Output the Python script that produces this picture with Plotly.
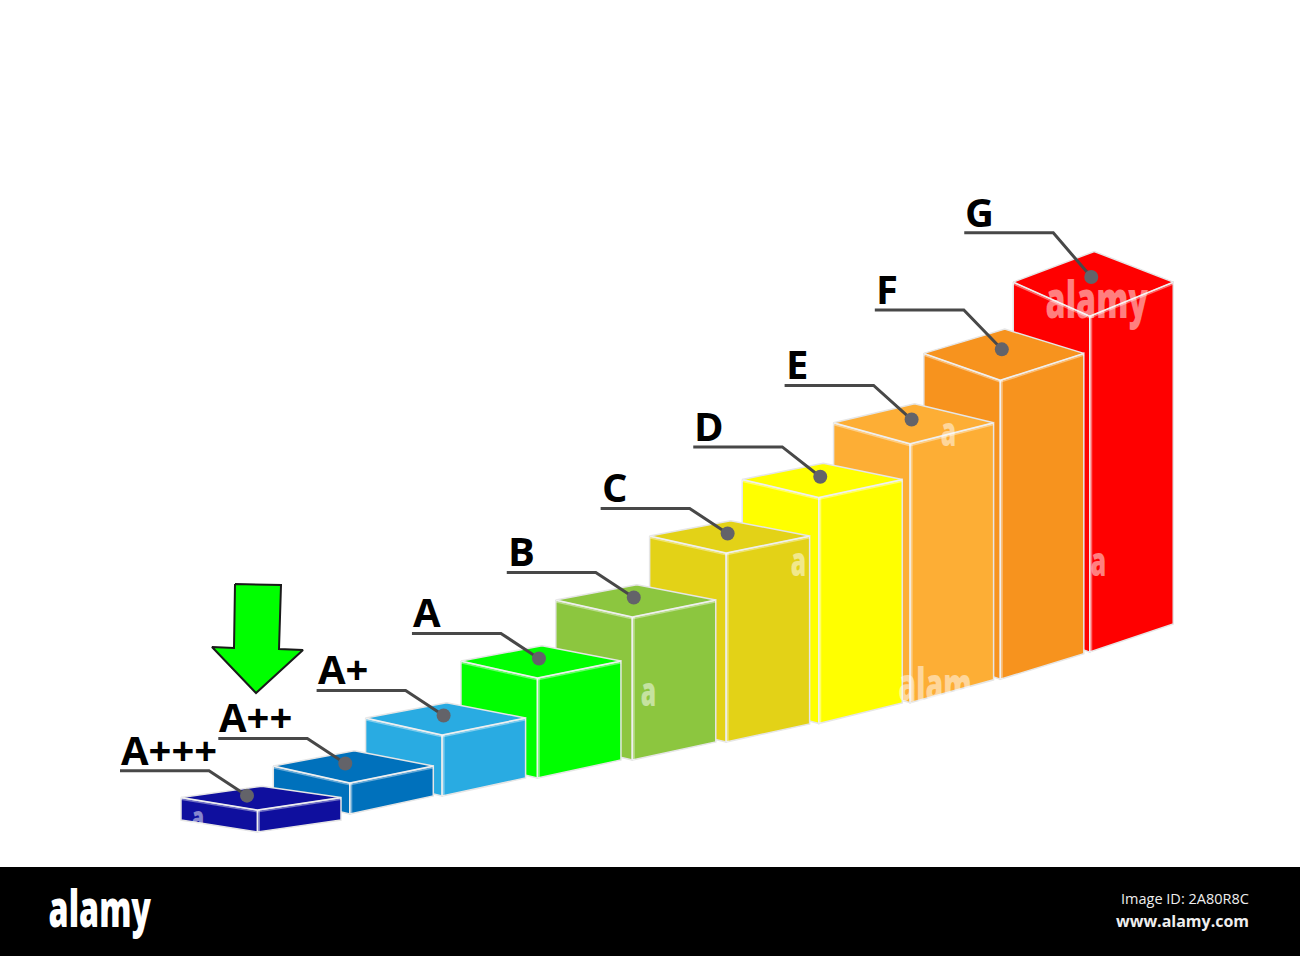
import math
import plotly.graph_objects as go

# ---- data ----
categories = ["A+++", "A++", "A+", "A", "B", "C", "D", "E", "F", "G"]
heights = [22, 31, 61, 100, 143, 189, 226, 259, 299, 336]

# ---- style ----
palette = ["#0f0f9e", "#0071bc", "#29abe2", "#00ff00", "#8cc63f",
           "#e3d217", "#ffff00", "#fdae35", "#f7931e", "#ff0000"]
EDGE = "#e6e6e6"
BEVEL = "rgba(255,255,255,0.4)"
LABEL_FONT = "Open Sans"
LOGO_FONT = "Open Sans"


def project(i, h):
    """Oblique view of a bar: slot index and height -> the corners of the bar."""
    left = 181 + 92.3 * i
    if i > 2:
        left += 7.5 * math.sin(math.pi * (i - 2) / 7.5)
    front_x, right_x, back_x = left + 76.5, left + 160, left + 81
    base = 832 - 18 * i - 0.56 * max(0, i - 5) ** 2.5
    rise = 18 if i > 0 else 12
    rise += max(0, i - 5) * 2.5
    tilt = 17 + (max(0, h - 200) / 136) ** 1.7 * 17 - max(0, 31 - h) * 0.5
    top = base - h
    return dict(
        left=left, fx=front_x, rx=right_x, bx=back_x,
        base=base, base_side=base - rise, top=top, tilt=tilt,
    )


fig = go.Figure()


def poly(xs, ys, fill=None, line=EDGE, width=1.5):
    fig.add_trace(go.Scatter(
        x=xs, y=ys, mode="lines", fill="toself" if fill else None,
        fillcolor=fill, line=dict(color=line, width=width),
        hoverinfo="skip", showlegend=False,
    ))


# tallest bars sit behind the lower ones
for i in reversed(range(len(categories))):
    g = project(i, heights[i])
    c = palette[i]
    L, F, R, B = g["left"], g["fx"], g["rx"], g["bx"]
    t, tl = g["top"], g["tilt"]
    side_top = t - tl
    back_top = side_top - tl * 0.9
    bs = g["base_side"]
    # left wall, right wall, roof
    poly([L, F, F, L, L], [side_top, t, g["base"], bs, side_top], fill=c)
    poly([F, R, R, F, F], [t, side_top, bs, g["base"], t], fill=c)
    poly([L, B, R, F, L], [side_top, back_top, side_top, t, side_top], fill=c)
    # lighter bevel along the front edges
    poly([L, F, R], [side_top + 1, t + 1, side_top + 1], line=BEVEL, width=3)
    poly([F + 1, F + 1], [t, g["base"]], line=BEVEL, width=3)

# leaders and dots
for i, name in enumerate(categories):
    g = project(i, heights[i])
    dot_x = g["left"] + min(78, 66 + 6 * i)
    dot_y = g["top"] - g["tilt"] * 1.15
    lift = 25 + max(0, heights[i] - 189) * 0.13
    line_y = dot_y - lift
    poly([dot_x - 127, dot_x - 38, dot_x], [line_y, line_y, dot_y],
         line="#484848", width=3)
    fig.add_trace(go.Scatter(
        x=[dot_x], y=[dot_y], mode="markers",
        marker=dict(size=14, color="#636369"),
        hoverinfo="skip", showlegend=False,
    ))
    fig.add_annotation(
        x=dot_x - 127, y=line_y + 7, text=name,
        xanchor="left", yanchor="bottom", showarrow=False, borderpad=0,
        font=dict(family=LABEL_FONT, size=40, color="black", weight=700),
    )

# green pointer above the A++ step
arrow_x = 257
arrow_outline = [(-22, 584), (24, 585), (22, 649), (46, 650), (-1, 693), (-45, 647), (-23, 648), (-22, 584)]
poly([arrow_x + p[0] for p in arrow_outline], [p[1] for p in arrow_outline],
     fill="#00ff00", line="#1a1a1a", width=2)

# footer band
fig.add_shape(type="rect", x0=0, x1=1300, y0=867, y1=956,
              fillcolor="black", line_width=0, layer="above")
fig.add_annotation(x=100, y=906, text="alamy", showarrow=False,
                   font=dict(family=LOGO_FONT, size=52, color="white", weight=800))
fig.add_annotation(x=1251, y=898, text="Image ID: 2A80R8C", showarrow=False, xanchor="right",
                   font=dict(family=LABEL_FONT, size=14.5, color="#eeeeee"))
fig.add_annotation(x=1251, y=921, text="<b>www.alamy.com</b>", showarrow=False, xanchor="right",
                   font=dict(family=LABEL_FONT, size=16, color="#eeeeee"))

# watermark
marks = [("alamy", 1097, 297, 52), ("alam", 935, 683, 46), ("a", 948, 430, 40), ("a", 798, 560, 40),
         ("a", 648, 690, 40), ("a", 1098, 560, 40), ("a", 198, 816, 32)]
for txt, x, y, s in marks:
    fig.add_annotation(x=x, y=y, text=txt, showarrow=False,
                       font=dict(family=LOGO_FONT, size=s, color="rgba(255,255,255,0.5)", weight=800))

fig.update_layout(
    width=1300, height=956, margin=dict(l=0, r=0, t=0, b=0),
    paper_bgcolor="white", plot_bgcolor="white", showlegend=False,
    xaxis=dict(range=[0, 1300], visible=False, fixedrange=True),
    yaxis=dict(range=[956, 0], visible=False, fixedrange=True),
)

# the alamy lettering is a condensed face: narrow the logo and watermark text
condense = """
document.body.style.margin = '0';
function condense() {
  document.querySelectorAll('text.annotation-text').forEach(function (el) {
    var s = el.textContent;
    if (s === 'alamy' || s === 'alam' || s === 'a') {
      el.style.transformBox = 'fill-box';
      el.style.transformOrigin = 'center';
      el.style.transform = 'scaleX(0.62)';
    }
  });
}
condense();
setTimeout(condense, 50);
"""
fig.write_html("out.html", config={"displayModeBar": False}, post_script=condense)
